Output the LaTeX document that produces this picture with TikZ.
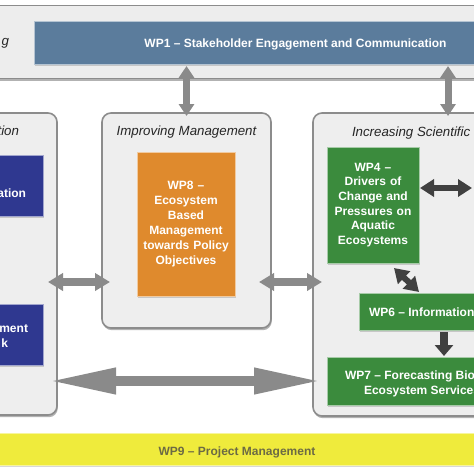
\documentclass[tikz,border=0pt]{standalone}
\usepackage{fontspec}
\setmainfont{Liberation Sans}
\usetikzlibrary{arrows.meta,shadows,calc}
\definecolor{bandgray}{HTML}{EDEDED}
\definecolor{panelgray}{HTML}{EEEEEE}
\definecolor{bordergray}{HTML}{8C8C8C}
\definecolor{wpblue}{HTML}{5B7C9C}
\definecolor{wpnavy}{HTML}{2F3890}
\definecolor{wporange}{HTML}{DF8A2D}
\definecolor{wpgreen}{HTML}{3B8B3D}
\definecolor{arrowgray}{HTML}{8A8A8A}
\definecolor{arrowdark}{HTML}{404040}
\definecolor{wpyellow}{HTML}{EFEB3C}
\definecolor{yellowtext}{HTML}{6C6A44}
\begin{document}
\begin{tikzpicture}[x=1pt,y=-1pt,
  every node/.style={inner sep=0pt, outer sep=0pt},
  panel/.style={draw=bordergray, line width=1.6pt, fill=panelgray, rounded corners=9pt, anchor=north west,
    drop shadow={shadow xshift=0.8pt, shadow yshift=-2.2pt, opacity=0.6}},
  wpbox/.style={anchor=north west, line width=0.8pt, text=white, align=center,
    font=\fontsize{12}{15}\selectfont\bfseries,
    drop shadow={shadow xshift=0.6pt, shadow yshift=-1.5pt, opacity=0.35}},
  bt/.style={text=white, font=\fontsize{12}{15}\selectfont\bfseries},
  ttl/.style={font=\fontsize{13.3}{15}\selectfont\itshape, text=black!85},
  garrow/.style={draw=arrowgray, line width=7pt, {Triangle[length=12pt,width=15pt]}-{Triangle[length=12pt,width=15pt]}},
  harrow/.style={draw=arrowgray, line width=8pt, {Triangle[length=15pt,width=17pt]}-{Triangle[length=15pt,width=17pt]}},
  bigarrow/.style={draw=arrowgray, line width=10pt, {Triangle[length=68pt,width=24pt]}-{Triangle[length=68pt,width=24pt]}},
  darrow/.style={draw=arrowdark, line width=6pt, {Triangle[length=14pt,width=17pt]}-{Triangle[length=14pt,width=17pt]}},
  downarrow/.style={draw=arrowdark, line width=8pt, -{Triangle[length=11pt,width=18pt]}}
]
\useasboundingbox (0,0) rectangle (474,474);
\clip (0,0) rectangle (474,474);
\fill[white] (0,0) rectangle (474,474);

% top band and WP1
\node[draw=bordergray, line width=1pt, fill=bandgray, anchor=north west, minimum width=500pt, minimum height=73pt,
  drop shadow={shadow xshift=0pt, shadow yshift=-2.5pt, opacity=0.6}] (band) at (-10,5) {};
\node[ttl, anchor=base east] (bandtitle) at (9,45) {g};
\node[wpbox, fill=wpblue, draw=white!55!wpblue, minimum width=460pt, minimum height=43pt] (wpone) at (34,21) {};
\node[bt, anchor=base] (wponetext) at (295.5,47) {WP1 – Stakeholder Engagement and Communication};

% panels
\node[panel, minimum width=117pt, minimum height=302pt] (leftp) at (-60,113) {};
\node[panel, minimum width=169pt, minimum height=215pt] (midp) at (102,113) {};
\node[panel, minimum width=270pt, minimum height=303pt] (rightp) at (313,113) {};

\node[ttl, anchor=base east] (lefttitle) at (19,135.5) {tion};
\node[ttl, anchor=base] (midtitle) at (186.5,135.5) {Improving Management};
\node[ttl, anchor=base west] (righttitle) at (352,136) {Increasing Scientific};

% left boxes
\node[wpbox, fill=wpnavy, draw=white!55!wpnavy, minimum width=73pt, minimum height=61pt] (wptwo) at (-30,155) {};
\node[bt, anchor=base east] (wptwotext) at (26,197) {ation};
\node[wpbox, fill=wpnavy, draw=white!55!wpnavy, minimum width=73pt, minimum height=61pt] (wpthree) at (-30,304) {};
\node[bt, anchor=base east] (wpthreetexta) at (28,332) {ment};
\node[bt, anchor=base east] (wpthreetextb) at (8,347) {k};

% middle box
\node[wpbox, fill=wporange, draw=white!55!wporange, minimum width=98pt, minimum height=144pt, text width=96pt]
  (wpeight) at (137,152) {WP8 –\\Ecosystem\\Based\\Management\\towards Policy\\Objectives};

% right boxes
\node[wpbox, fill=wpgreen, draw=white!55!wpgreen, minimum width=92pt, minimum height=116pt, text width=90pt,
  font=\fontsize{12}{14.6}\selectfont\bfseries]
  (wpfour) at (327,147) {WP4 –\\Drivers of\\Change and\\Pressures on\\Aquatic\\Ecosystems};
\node[wpbox, fill=wpgreen, draw=white!55!wpgreen, minimum width=200pt, minimum height=37pt] (wpsix) at (359,293) {};
\node[bt, anchor=base west] (wpsixtext) at (369,316) {WP6 – Information};
\node[wpbox, fill=wpgreen, draw=white!55!wpgreen, minimum width=250pt, minimum height=48pt] (wpseven) at (327,357) {};
\node[bt, anchor=base west] (wpseventexta) at (345,379.5) {WP7 – Forecasting Biodiversity};
\node[bt, anchor=base west] (wpseventextb) at (364,394) {Ecosystem Services};

% bottom bar
\node[anchor=north west, fill=wpyellow, draw=white!50!wpyellow, line width=0.8pt, minimum width=500pt, minimum height=32pt,
  drop shadow={shadow xshift=0pt, shadow yshift=-1.5pt, opacity=0.3}] (wpnine) at (-10,433) {};
\node[anchor=base, text=yellowtext, font=\fontsize{12}{15}\selectfont\bfseries] (wpninetext) at (237,455) {WP9 – Project Management};

% connectors
\coordinate (offright) at (472,188);
\draw[garrow] ($(wpone.south -| midp.north)+(0,2)$) -- ($(midp.north)+(0,3)$);
\draw[garrow] ($(wpone.south -| rightp.north)+(0,2)$) -- ($(rightp.north)+(0,3)$);
\coordinate (rowa) at (0,282);
\draw[harrow] ($(leftp.east |- rowa)+(-9,0)$) -- ($(midp.west |- rowa)+(8,0)$);
\draw[harrow] ($(midp.east |- rowa)+(-12,0)$) -- ($(rightp.west |- rowa)+(9,0)$);
\draw[bigarrow] ($(leftp.east |- wpseven.west)+(-9,0)$) -- ($(wpseven.west)+(-5,0)$);
\draw[darrow] ($(wpfour.east |- offright)+(1,0)$) -- (offright);
\draw[darrow] ($(wpfour.south)+(21,5)$) -- ($(wpsix.north west)+(60,-1)$);
\draw[downarrow] ($(wpsix.south west)+(85,2)$) -- ($(wpseven.north west)+(117,-1)$);
\end{tikzpicture}
\end{document}
